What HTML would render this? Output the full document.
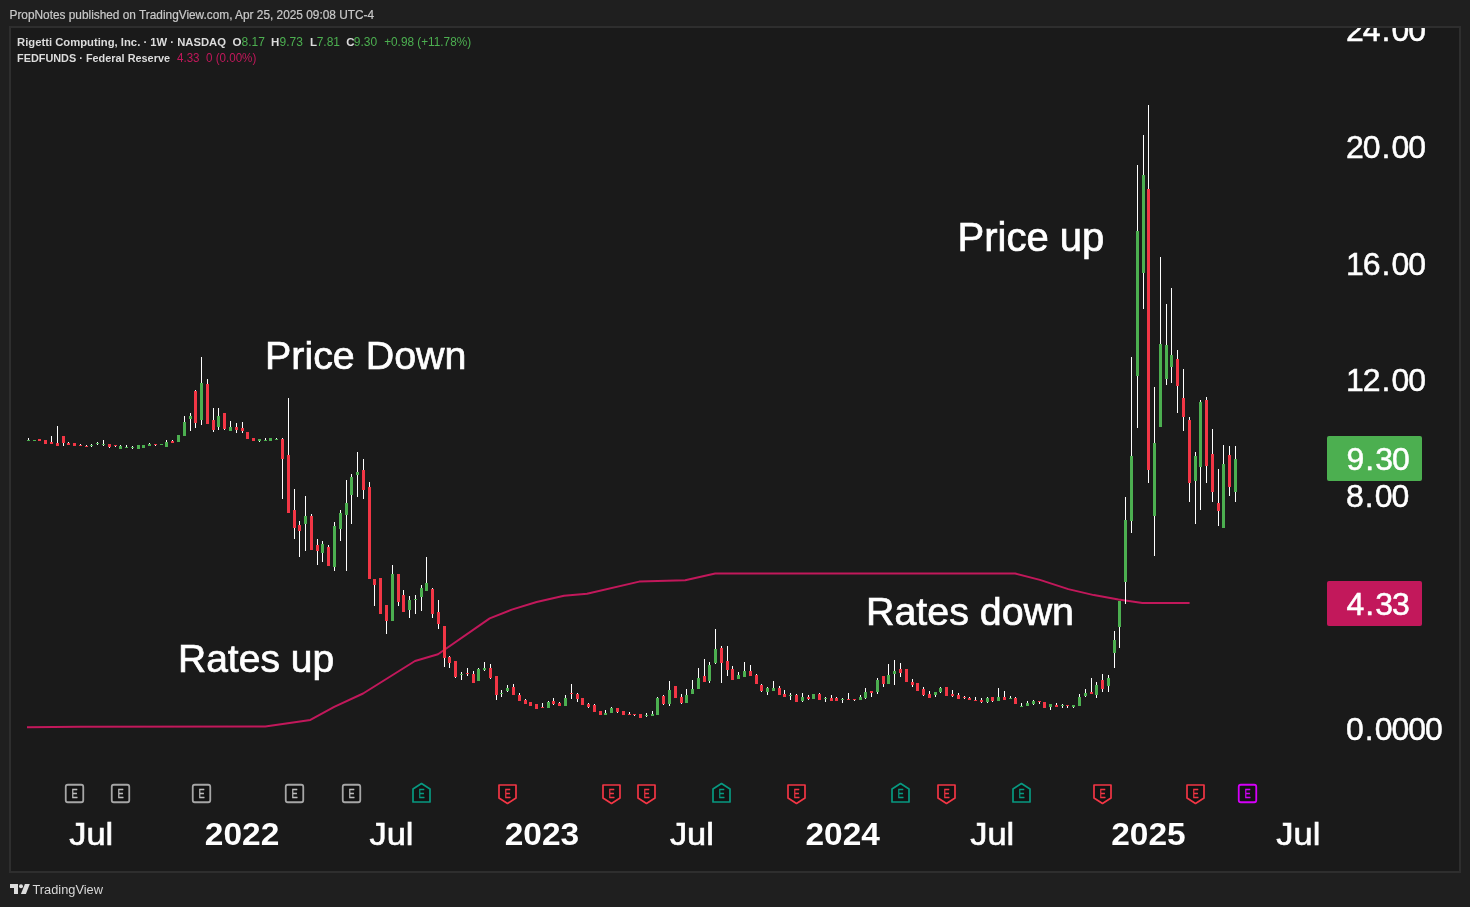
<!DOCTYPE html>
<html><head><meta charset="utf-8">
<style>
html,body{margin:0;padding:0;}
body{width:1470px;height:907px;background:#1f1f1f;position:relative;overflow:hidden;font-family:"Liberation Sans",sans-serif;}
#wrap{position:absolute;left:0;top:0;width:1470px;height:907px;will-change:transform;}
.frame{position:absolute;left:9px;top:26px;width:1448px;height:843px;border:2px solid #2e2e2e;background:#1a1a1a;}
svg{position:absolute;left:0;top:0;}
text{font-family:"Liberation Sans",sans-serif;white-space:pre;}
</style></head><body><div id="wrap">
<div class="frame"></div>
<svg width="1470" height="907" viewBox="0 0 1470 907">
<defs><clipPath id="pane"><rect x="11" y="28" width="1448" height="843"/></clipPath></defs>
<g clip-path="url(#pane)">
<polyline points="27,727.1999999999999 80,726.6999999999999 265.3,726.5 310.4,719.9 334.2,706.8 363.1,693.5 415,661.0 438,654.1999999999999 489.7,618.4 511.8,609.6 536.6,602.0 564,595.8 587,593.6999999999999 639.2,581.6 685.2,580.1999999999999 715.2,573.5 1015.2,573.5 1039.9,579.9 1068.3,589.1 1093.8,595.1 1118.5,599.6 1142.4,603.1 1189.6,603.1" fill="none" stroke="#c2185b" stroke-width="2" stroke-linejoin="round"/>
<g fill="#ffffff" shape-rendering="crispEdges"><rect x="28" y="438" width="1" height="3"/><rect x="34" y="440" width="1" height="1"/><rect x="39" y="439" width="1" height="2"/><rect x="45" y="440" width="1" height="4"/><rect x="51" y="436" width="1" height="8"/><rect x="57" y="426" width="1" height="20"/><rect x="63" y="436" width="1" height="10"/><rect x="68" y="442" width="1" height="3"/><rect x="74" y="443" width="1" height="3"/><rect x="80" y="444" width="1" height="2"/><rect x="86" y="445" width="1" height="2"/><rect x="91" y="444" width="1" height="3"/><rect x="97" y="442" width="1" height="3"/><rect x="103" y="440" width="1" height="6"/><rect x="109" y="444" width="1" height="4"/><rect x="115" y="445" width="1" height="2"/><rect x="120" y="445" width="1" height="4"/><rect x="126" y="445" width="1" height="3"/><rect x="132" y="446" width="1" height="3"/><rect x="138" y="445" width="1" height="4"/><rect x="143" y="445" width="1" height="3"/><rect x="149" y="443" width="1" height="3"/><rect x="155" y="444" width="1" height="2"/><rect x="161" y="444" width="1" height="1"/><rect x="166" y="440" width="1" height="7"/><rect x="172" y="440" width="1" height="3"/><rect x="178" y="435" width="1" height="7"/><rect x="184" y="416" width="1" height="20"/><rect x="190" y="413" width="1" height="18"/><rect x="195" y="390" width="1" height="38"/><rect x="201" y="357" width="1" height="68"/><rect x="207" y="379" width="1" height="45"/><rect x="213" y="408" width="1" height="24"/><rect x="218" y="408" width="1" height="22"/><rect x="224" y="413" width="1" height="17"/><rect x="230" y="421" width="1" height="10"/><rect x="236" y="423" width="1" height="10"/><rect x="242" y="422" width="1" height="11"/><rect x="247" y="432" width="1" height="7"/><rect x="253" y="438" width="1" height="3"/><rect x="259" y="439" width="1" height="3"/><rect x="265" y="438" width="1" height="3"/><rect x="270" y="438" width="1" height="3"/><rect x="276" y="438" width="1" height="2"/><rect x="282" y="438" width="1" height="61"/><rect x="288" y="398" width="1" height="115"/><rect x="294" y="489" width="1" height="50"/><rect x="299" y="521" width="1" height="36"/><rect x="305" y="496" width="1" height="55"/><rect x="311" y="514" width="1" height="36"/><rect x="317" y="539" width="1" height="26"/><rect x="322" y="541" width="1" height="21"/><rect x="328" y="545" width="1" height="21"/><rect x="334" y="522" width="1" height="49"/><rect x="340" y="510" width="1" height="31"/><rect x="346" y="480" width="1" height="91"/><rect x="351" y="474" width="1" height="50"/><rect x="357" y="452" width="1" height="45"/><rect x="363" y="459" width="1" height="40"/><rect x="369" y="482" width="1" height="97"/><rect x="374" y="579" width="1" height="27"/><rect x="380" y="578" width="1" height="36"/><rect x="386" y="605" width="1" height="29"/><rect x="392" y="565" width="1" height="56"/><rect x="398" y="574" width="1" height="32"/><rect x="403" y="590" width="1" height="22"/><rect x="409" y="596" width="1" height="22"/><rect x="415" y="595" width="1" height="19"/><rect x="421" y="585" width="1" height="26"/><rect x="426" y="557" width="1" height="34"/><rect x="432" y="588" width="1" height="30"/><rect x="438" y="600" width="1" height="29"/><rect x="444" y="626" width="1" height="41"/><rect x="449" y="656" width="1" height="12"/><rect x="455" y="661" width="1" height="17"/><rect x="461" y="672" width="1" height="8"/><rect x="467" y="668" width="1" height="8"/><rect x="473" y="671" width="1" height="12"/><rect x="478" y="668" width="1" height="13"/><rect x="484" y="662" width="1" height="9"/><rect x="490" y="664" width="1" height="15"/><rect x="496" y="676" width="1" height="24"/><rect x="501" y="690" width="1" height="7"/><rect x="507" y="685" width="1" height="7"/><rect x="513" y="684" width="1" height="11"/><rect x="519" y="693" width="1" height="8"/><rect x="525" y="699" width="1" height="5"/><rect x="530" y="702" width="1" height="4"/><rect x="536" y="704" width="1" height="5"/><rect x="542" y="703" width="1" height="5"/><rect x="548" y="701" width="1" height="7"/><rect x="553" y="698" width="1" height="7"/><rect x="559" y="702" width="1" height="4"/><rect x="565" y="695" width="1" height="11"/><rect x="571" y="684" width="1" height="15"/><rect x="577" y="693" width="1" height="9"/><rect x="582" y="698" width="1" height="7"/><rect x="588" y="703" width="1" height="5"/><rect x="594" y="704" width="1" height="8"/><rect x="600" y="711" width="1" height="4"/><rect x="605" y="710" width="1" height="5"/><rect x="611" y="707" width="1" height="6"/><rect x="617" y="708" width="1" height="5"/><rect x="623" y="711" width="1" height="4"/><rect x="629" y="712" width="1" height="3"/><rect x="634" y="714" width="1" height="2"/><rect x="640" y="714" width="1" height="4"/><rect x="646" y="713" width="1" height="4"/><rect x="652" y="711" width="1" height="5"/><rect x="657" y="697" width="1" height="18"/><rect x="663" y="695" width="1" height="10"/><rect x="669" y="681" width="1" height="25"/><rect x="675" y="686" width="1" height="12"/><rect x="681" y="694" width="1" height="10"/><rect x="686" y="689" width="1" height="14"/><rect x="692" y="680" width="1" height="14"/><rect x="698" y="668" width="1" height="21"/><rect x="704" y="659" width="1" height="23"/><rect x="709" y="662" width="1" height="21"/><rect x="715" y="629" width="1" height="35"/><rect x="721" y="646" width="1" height="37"/><rect x="727" y="646" width="1" height="30"/><rect x="732" y="666" width="1" height="14"/><rect x="738" y="672" width="1" height="7"/><rect x="744" y="662" width="1" height="15"/><rect x="750" y="665" width="1" height="11"/><rect x="756" y="674" width="1" height="10"/><rect x="761" y="684" width="1" height="8"/><rect x="767" y="687" width="1" height="8"/><rect x="773" y="681" width="1" height="10"/><rect x="779" y="686" width="1" height="9"/><rect x="784" y="690" width="1" height="7"/><rect x="790" y="693" width="1" height="7"/><rect x="796" y="694" width="1" height="8"/><rect x="802" y="693" width="1" height="9"/><rect x="808" y="695" width="1" height="5"/><rect x="813" y="694" width="1" height="5"/><rect x="819" y="693" width="1" height="7"/><rect x="825" y="697" width="1" height="5"/><rect x="831" y="695" width="1" height="6"/><rect x="836" y="697" width="1" height="4"/><rect x="842" y="698" width="1" height="5"/><rect x="848" y="693" width="1" height="7"/><rect x="854" y="699" width="1" height="2"/><rect x="860" y="695" width="1" height="5"/><rect x="865" y="688" width="1" height="11"/><rect x="871" y="691" width="1" height="6"/><rect x="877" y="678" width="1" height="16"/><rect x="883" y="676" width="1" height="11"/><rect x="888" y="664" width="1" height="20"/><rect x="894" y="660" width="1" height="25"/><rect x="900" y="663" width="1" height="14"/><rect x="906" y="669" width="1" height="13"/><rect x="912" y="679" width="1" height="8"/><rect x="917" y="683" width="1" height="8"/><rect x="923" y="687" width="1" height="9"/><rect x="929" y="691" width="1" height="7"/><rect x="935" y="692" width="1" height="5"/><rect x="940" y="687" width="1" height="6"/><rect x="946" y="687" width="1" height="9"/><rect x="952" y="690" width="1" height="7"/><rect x="958" y="693" width="1" height="6"/><rect x="964" y="696" width="1" height="3"/><rect x="969" y="697" width="1" height="3"/><rect x="975" y="697" width="1" height="4"/><rect x="981" y="698" width="1" height="5"/><rect x="987" y="697" width="1" height="6"/><rect x="992" y="697" width="1" height="5"/><rect x="998" y="688" width="1" height="13"/><rect x="1004" y="691" width="1" height="9"/><rect x="1010" y="696" width="1" height="3"/><rect x="1015" y="697" width="1" height="7"/><rect x="1021" y="703" width="1" height="4"/><rect x="1027" y="701" width="1" height="5"/><rect x="1033" y="700" width="1" height="5"/><rect x="1039" y="701" width="1" height="3"/><rect x="1044" y="702" width="1" height="6"/><rect x="1050" y="704" width="1" height="6"/><rect x="1056" y="703" width="1" height="4"/><rect x="1062" y="704" width="1" height="4"/><rect x="1067" y="705" width="1" height="3"/><rect x="1073" y="705" width="1" height="3"/><rect x="1079" y="694" width="1" height="12"/><rect x="1085" y="689" width="1" height="8"/><rect x="1091" y="678" width="1" height="16"/><rect x="1096" y="682" width="1" height="16"/><rect x="1102" y="674" width="1" height="18"/><rect x="1108" y="675" width="1" height="17"/><rect x="1114" y="631" width="1" height="37"/><rect x="1119" y="601" width="1" height="47"/><rect x="1125" y="497" width="1" height="107"/><rect x="1131" y="357" width="1" height="176"/><rect x="1137" y="165" width="1" height="263"/><rect x="1143" y="135" width="1" height="174"/><rect x="1148" y="105" width="1" height="378"/><rect x="1154" y="387" width="1" height="169"/><rect x="1160" y="257" width="1" height="170"/><rect x="1166" y="304" width="1" height="81"/><rect x="1171" y="288" width="1" height="95"/><rect x="1177" y="350" width="1" height="63"/><rect x="1183" y="369" width="1" height="62"/><rect x="1189" y="417" width="1" height="85"/><rect x="1195" y="452" width="1" height="72"/><rect x="1200" y="400" width="1" height="110"/><rect x="1206" y="397" width="1" height="86"/><rect x="1212" y="429" width="1" height="73"/><rect x="1218" y="469" width="1" height="57"/><rect x="1223" y="445" width="1" height="83"/><rect x="1229" y="446" width="1" height="50"/><rect x="1235" y="446" width="1" height="56"/></g>
<g shape-rendering="crispEdges"><rect x="27" y="440" width="3" height="1" fill="#4caf50"/><rect x="33" y="440" width="3" height="1" fill="#4caf50"/><rect x="38" y="439" width="3" height="2" fill="#f23645"/><rect x="44" y="440" width="3" height="4" fill="#f23645"/><rect x="50" y="442" width="3" height="2" fill="#f23645"/><rect x="56" y="443" width="3" height="3" fill="#f23645"/><rect x="62" y="436" width="3" height="7" fill="#f23645"/><rect x="67" y="443" width="3" height="2" fill="#f23645"/><rect x="73" y="443" width="3" height="3" fill="#f23645"/><rect x="79" y="445" width="3" height="1" fill="#f23645"/><rect x="85" y="446" width="3" height="1" fill="#f23645"/><rect x="90" y="445" width="3" height="1" fill="#4caf50"/><rect x="96" y="443" width="3" height="1" fill="#4caf50"/><rect x="102" y="444" width="3" height="1" fill="#4caf50"/><rect x="108" y="444" width="3" height="3" fill="#f23645"/><rect x="114" y="445" width="3" height="1" fill="#f23645"/><rect x="119" y="446" width="3" height="3" fill="#4caf50"/><rect x="125" y="447" width="3" height="1" fill="#4caf50"/><rect x="131" y="447" width="3" height="1" fill="#4caf50"/><rect x="137" y="445" width="3" height="4" fill="#4caf50"/><rect x="142" y="445" width="3" height="3" fill="#4caf50"/><rect x="148" y="444" width="3" height="2" fill="#4caf50"/><rect x="154" y="444" width="3" height="1" fill="#f23645"/><rect x="160" y="444" width="3" height="1" fill="#4caf50"/><rect x="165" y="442" width="3" height="5" fill="#4caf50"/><rect x="171" y="441" width="3" height="2" fill="#f23645"/><rect x="177" y="435" width="3" height="7" fill="#4caf50"/><rect x="183" y="422" width="3" height="14" fill="#4caf50"/><rect x="189" y="416" width="3" height="3" fill="#4caf50"/><rect x="194" y="391" width="3" height="32" fill="#f23645"/><rect x="200" y="383" width="3" height="37" fill="#4caf50"/><rect x="206" y="384" width="3" height="40" fill="#f23645"/><rect x="212" y="420" width="3" height="10" fill="#f23645"/><rect x="217" y="416" width="3" height="11" fill="#4caf50"/><rect x="223" y="413" width="3" height="16" fill="#f23645"/><rect x="229" y="427" width="3" height="4" fill="#4caf50"/><rect x="235" y="427" width="3" height="3" fill="#f23645"/><rect x="241" y="428" width="3" height="3" fill="#f23645"/><rect x="246" y="432" width="3" height="7" fill="#f23645"/><rect x="252" y="438" width="3" height="3" fill="#f23645"/><rect x="258" y="439" width="3" height="2" fill="#4caf50"/><rect x="264" y="440" width="3" height="1" fill="#4caf50"/><rect x="269" y="438" width="3" height="3" fill="#4caf50"/><rect x="275" y="439" width="3" height="1" fill="#4caf50"/><rect x="281" y="439" width="3" height="20" fill="#f23645"/><rect x="287" y="455" width="3" height="58" fill="#f23645"/><rect x="293" y="510" width="3" height="18" fill="#f23645"/><rect x="298" y="525" width="3" height="6" fill="#f23645"/><rect x="304" y="516" width="3" height="8" fill="#4caf50"/><rect x="310" y="516" width="3" height="34" fill="#f23645"/><rect x="316" y="545" width="3" height="6" fill="#f23645"/><rect x="321" y="544" width="3" height="9" fill="#4caf50"/><rect x="327" y="547" width="3" height="19" fill="#f23645"/><rect x="333" y="526" width="3" height="41" fill="#4caf50"/><rect x="339" y="513" width="3" height="16" fill="#4caf50"/><rect x="345" y="503" width="3" height="12" fill="#4caf50"/><rect x="350" y="477" width="3" height="18" fill="#4caf50"/><rect x="356" y="472" width="3" height="3" fill="#4caf50"/><rect x="362" y="470" width="3" height="20" fill="#f23645"/><rect x="368" y="487" width="3" height="92" fill="#f23645"/><rect x="373" y="579" width="3" height="6" fill="#f23645"/><rect x="379" y="578" width="3" height="36" fill="#f23645"/><rect x="385" y="605" width="3" height="16" fill="#f23645"/><rect x="391" y="574" width="3" height="47" fill="#4caf50"/><rect x="397" y="574" width="3" height="28" fill="#f23645"/><rect x="402" y="595" width="3" height="17" fill="#f23645"/><rect x="408" y="600" width="3" height="10" fill="#4caf50"/><rect x="414" y="599" width="3" height="1" fill="#4caf50"/><rect x="420" y="588" width="3" height="9" fill="#4caf50"/><rect x="425" y="583" width="3" height="8" fill="#4caf50"/><rect x="431" y="589" width="3" height="25" fill="#f23645"/><rect x="437" y="612" width="3" height="12" fill="#f23645"/><rect x="443" y="626" width="3" height="32" fill="#f23645"/><rect x="448" y="657" width="3" height="6" fill="#f23645"/><rect x="454" y="661" width="3" height="16" fill="#f23645"/><rect x="460" y="674" width="3" height="1" fill="#4caf50"/><rect x="466" y="673" width="3" height="1" fill="#f23645"/><rect x="472" y="674" width="3" height="9" fill="#f23645"/><rect x="477" y="669" width="3" height="12" fill="#4caf50"/><rect x="483" y="668" width="3" height="2" fill="#4caf50"/><rect x="489" y="668" width="3" height="10" fill="#f23645"/><rect x="495" y="676" width="3" height="19" fill="#f23645"/><rect x="500" y="693" width="3" height="1" fill="#4caf50"/><rect x="506" y="688" width="3" height="3" fill="#4caf50"/><rect x="512" y="687" width="3" height="8" fill="#f23645"/><rect x="518" y="695" width="3" height="6" fill="#f23645"/><rect x="524" y="700" width="3" height="4" fill="#f23645"/><rect x="529" y="702" width="3" height="4" fill="#f23645"/><rect x="535" y="704" width="3" height="5" fill="#f23645"/><rect x="541" y="707" width="3" height="1" fill="#f23645"/><rect x="547" y="702" width="3" height="6" fill="#4caf50"/><rect x="552" y="701" width="3" height="3" fill="#f23645"/><rect x="558" y="703" width="3" height="3" fill="#f23645"/><rect x="564" y="698" width="3" height="8" fill="#4caf50"/><rect x="570" y="693" width="3" height="1" fill="#f23645"/><rect x="576" y="694" width="3" height="5" fill="#f23645"/><rect x="581" y="698" width="3" height="7" fill="#f23645"/><rect x="587" y="704" width="3" height="3" fill="#f23645"/><rect x="593" y="705" width="3" height="7" fill="#f23645"/><rect x="599" y="711" width="3" height="4" fill="#f23645"/><rect x="604" y="713" width="3" height="2" fill="#4caf50"/><rect x="610" y="708" width="3" height="5" fill="#4caf50"/><rect x="616" y="708" width="3" height="4" fill="#f23645"/><rect x="622" y="711" width="3" height="4" fill="#f23645"/><rect x="628" y="714" width="3" height="1" fill="#f23645"/><rect x="633" y="714" width="3" height="1" fill="#f23645"/><rect x="639" y="714" width="3" height="4" fill="#f23645"/><rect x="645" y="715" width="3" height="1" fill="#4caf50"/><rect x="651" y="714" width="3" height="2" fill="#4caf50"/><rect x="656" y="698" width="3" height="17" fill="#4caf50"/><rect x="662" y="696" width="3" height="8" fill="#f23645"/><rect x="668" y="690" width="3" height="14" fill="#4caf50"/><rect x="674" y="686" width="3" height="12" fill="#f23645"/><rect x="680" y="697" width="3" height="6" fill="#f23645"/><rect x="685" y="695" width="3" height="8" fill="#4caf50"/><rect x="691" y="689" width="3" height="5" fill="#4caf50"/><rect x="697" y="678" width="3" height="11" fill="#4caf50"/><rect x="703" y="676" width="3" height="6" fill="#f23645"/><rect x="708" y="665" width="3" height="16" fill="#4caf50"/><rect x="714" y="649" width="3" height="14" fill="#4caf50"/><rect x="720" y="648" width="3" height="15" fill="#f23645"/><rect x="726" y="661" width="3" height="9" fill="#f23645"/><rect x="731" y="669" width="3" height="11" fill="#f23645"/><rect x="737" y="675" width="3" height="4" fill="#4caf50"/><rect x="743" y="671" width="3" height="6" fill="#4caf50"/><rect x="749" y="671" width="3" height="5" fill="#f23645"/><rect x="755" y="675" width="3" height="9" fill="#f23645"/><rect x="760" y="685" width="3" height="6" fill="#f23645"/><rect x="766" y="688" width="3" height="4" fill="#4caf50"/><rect x="772" y="688" width="3" height="3" fill="#4caf50"/><rect x="778" y="688" width="3" height="7" fill="#f23645"/><rect x="783" y="694" width="3" height="3" fill="#f23645"/><rect x="789" y="695" width="3" height="1" fill="#4caf50"/><rect x="795" y="695" width="3" height="7" fill="#f23645"/><rect x="801" y="697" width="3" height="4" fill="#4caf50"/><rect x="807" y="697" width="3" height="2" fill="#f23645"/><rect x="812" y="694" width="3" height="5" fill="#4caf50"/><rect x="818" y="694" width="3" height="6" fill="#f23645"/><rect x="824" y="698" width="3" height="1" fill="#4caf50"/><rect x="830" y="698" width="3" height="3" fill="#f23645"/><rect x="835" y="698" width="3" height="3" fill="#f23645"/><rect x="841" y="699" width="3" height="1" fill="#4caf50"/><rect x="847" y="699" width="3" height="1" fill="#f23645"/><rect x="853" y="699" width="3" height="1" fill="#f23645"/><rect x="859" y="697" width="3" height="3" fill="#4caf50"/><rect x="864" y="692" width="3" height="6" fill="#4caf50"/><rect x="870" y="691" width="3" height="2" fill="#f23645"/><rect x="876" y="680" width="3" height="12" fill="#4caf50"/><rect x="882" y="676" width="3" height="8" fill="#f23645"/><rect x="887" y="675" width="3" height="9" fill="#4caf50"/><rect x="893" y="671" width="3" height="3" fill="#4caf50"/><rect x="899" y="669" width="3" height="4" fill="#f23645"/><rect x="905" y="669" width="3" height="13" fill="#f23645"/><rect x="911" y="682" width="3" height="3" fill="#f23645"/><rect x="916" y="683" width="3" height="8" fill="#f23645"/><rect x="922" y="689" width="3" height="6" fill="#f23645"/><rect x="928" y="694" width="3" height="4" fill="#f23645"/><rect x="934" y="692" width="3" height="3" fill="#4caf50"/><rect x="939" y="688" width="3" height="4" fill="#4caf50"/><rect x="945" y="687" width="3" height="9" fill="#f23645"/><rect x="951" y="694" width="3" height="2" fill="#f23645"/><rect x="957" y="695" width="3" height="4" fill="#f23645"/><rect x="963" y="697" width="3" height="1" fill="#f23645"/><rect x="968" y="698" width="3" height="2" fill="#f23645"/><rect x="974" y="700" width="3" height="1" fill="#f23645"/><rect x="980" y="700" width="3" height="2" fill="#f23645"/><rect x="986" y="698" width="3" height="4" fill="#4caf50"/><rect x="991" y="697" width="3" height="4" fill="#f23645"/><rect x="997" y="697" width="3" height="4" fill="#4caf50"/><rect x="1003" y="697" width="3" height="3" fill="#f23645"/><rect x="1009" y="698" width="3" height="1" fill="#4caf50"/><rect x="1014" y="698" width="3" height="6" fill="#f23645"/><rect x="1020" y="706" width="3" height="1" fill="#4caf50"/><rect x="1026" y="703" width="3" height="3" fill="#4caf50"/><rect x="1032" y="701" width="3" height="3" fill="#4caf50"/><rect x="1038" y="701" width="3" height="1" fill="#f23645"/><rect x="1043" y="702" width="3" height="6" fill="#f23645"/><rect x="1049" y="704" width="3" height="3" fill="#4caf50"/><rect x="1055" y="705" width="3" height="2" fill="#f23645"/><rect x="1061" y="705" width="3" height="1" fill="#4caf50"/><rect x="1066" y="705" width="3" height="1" fill="#f23645"/><rect x="1072" y="705" width="3" height="2" fill="#4caf50"/><rect x="1078" y="697" width="3" height="9" fill="#4caf50"/><rect x="1084" y="693" width="3" height="3" fill="#4caf50"/><rect x="1090" y="692" width="3" height="2" fill="#f23645"/><rect x="1095" y="685" width="3" height="10" fill="#4caf50"/><rect x="1101" y="680" width="3" height="9" fill="#f23645"/><rect x="1107" y="678" width="3" height="8" fill="#4caf50"/><rect x="1113" y="640" width="3" height="13" fill="#4caf50"/><rect x="1118" y="601" width="3" height="26" fill="#4caf50"/><rect x="1124" y="520" width="3" height="62" fill="#4caf50"/><rect x="1130" y="456" width="3" height="65" fill="#4caf50"/><rect x="1136" y="231" width="3" height="145" fill="#4caf50"/><rect x="1142" y="175" width="3" height="98" fill="#4caf50"/><rect x="1147" y="189" width="3" height="281" fill="#f23645"/><rect x="1153" y="443" width="3" height="73" fill="#4caf50"/><rect x="1159" y="344" width="3" height="83" fill="#4caf50"/><rect x="1165" y="345" width="3" height="34" fill="#4caf50"/><rect x="1170" y="355" width="3" height="12" fill="#4caf50"/><rect x="1176" y="359" width="3" height="27" fill="#f23645"/><rect x="1182" y="398" width="3" height="19" fill="#f23645"/><rect x="1188" y="420" width="3" height="63" fill="#f23645"/><rect x="1194" y="456" width="3" height="25" fill="#4caf50"/><rect x="1199" y="402" width="3" height="65" fill="#4caf50"/><rect x="1205" y="400" width="3" height="66" fill="#f23645"/><rect x="1211" y="454" width="3" height="38" fill="#f23645"/><rect x="1217" y="503" width="3" height="8" fill="#f23645"/><rect x="1222" y="464" width="3" height="64" fill="#4caf50"/><rect x="1228" y="455" width="3" height="32" fill="#f23645"/><rect x="1234" y="459" width="3" height="33" fill="#4caf50"/></g>
<rect x="1327" y="436" width="95" height="45" rx="2" fill="#4caf50"/>
<rect x="1327" y="581" width="95" height="45" rx="2" fill="#c2185b"/>
<g><rect x="65.75" y="784.75" width="17.5" height="17.5" rx="2" fill="#131313" stroke="#a6a6a6" stroke-width="1.8"/><text x="74.5" y="798" fill="#bdbdbd" font-size="12.5" text-anchor="middle" textLength="6.2" lengthAdjust="spacingAndGlyphs" stroke="#bdbdbd" stroke-width="0.3">E</text><rect x="111.75" y="784.75" width="17.5" height="17.5" rx="2" fill="#131313" stroke="#a6a6a6" stroke-width="1.8"/><text x="120.5" y="798" fill="#bdbdbd" font-size="12.5" text-anchor="middle" textLength="6.2" lengthAdjust="spacingAndGlyphs" stroke="#bdbdbd" stroke-width="0.3">E</text><rect x="192.75" y="784.75" width="17.5" height="17.5" rx="2" fill="#131313" stroke="#a6a6a6" stroke-width="1.8"/><text x="201.5" y="798" fill="#bdbdbd" font-size="12.5" text-anchor="middle" textLength="6.2" lengthAdjust="spacingAndGlyphs" stroke="#bdbdbd" stroke-width="0.3">E</text><rect x="285.75" y="784.75" width="17.5" height="17.5" rx="2" fill="#131313" stroke="#a6a6a6" stroke-width="1.8"/><text x="294.5" y="798" fill="#bdbdbd" font-size="12.5" text-anchor="middle" textLength="6.2" lengthAdjust="spacingAndGlyphs" stroke="#bdbdbd" stroke-width="0.3">E</text><rect x="342.75" y="784.75" width="17.5" height="17.5" rx="2" fill="#131313" stroke="#a6a6a6" stroke-width="1.8"/><text x="351.5" y="798" fill="#bdbdbd" font-size="12.5" text-anchor="middle" textLength="6.2" lengthAdjust="spacingAndGlyphs" stroke="#bdbdbd" stroke-width="0.3">E</text><path d="M413.0,802 L413.0,789 L421.5,783.5 L430.0,789 L430.0,802 Z" fill="#131313" stroke="#089981" stroke-width="1.7" stroke-linejoin="round"/><text x="421.5" y="798" fill="#089981" font-size="12.5" text-anchor="middle" textLength="6.2" lengthAdjust="spacingAndGlyphs" stroke="#089981" stroke-width="0.3">E</text><path d="M499.0,785 L516.0,785 L516.0,798 L507.5,803.5 L499.0,798 Z" fill="#131313" stroke="#f23645" stroke-width="1.7" stroke-linejoin="round"/><text x="507.5" y="797.5" fill="#f23645" font-size="12.5" text-anchor="middle" textLength="6.2" lengthAdjust="spacingAndGlyphs" stroke="#f23645" stroke-width="0.3">E</text><path d="M603.0,785 L620.0,785 L620.0,798 L611.5,803.5 L603.0,798 Z" fill="#131313" stroke="#f23645" stroke-width="1.7" stroke-linejoin="round"/><text x="611.5" y="797.5" fill="#f23645" font-size="12.5" text-anchor="middle" textLength="6.2" lengthAdjust="spacingAndGlyphs" stroke="#f23645" stroke-width="0.3">E</text><path d="M638.0,785 L655.0,785 L655.0,798 L646.5,803.5 L638.0,798 Z" fill="#131313" stroke="#f23645" stroke-width="1.7" stroke-linejoin="round"/><text x="646.5" y="797.5" fill="#f23645" font-size="12.5" text-anchor="middle" textLength="6.2" lengthAdjust="spacingAndGlyphs" stroke="#f23645" stroke-width="0.3">E</text><path d="M713.0,802 L713.0,789 L721.5,783.5 L730.0,789 L730.0,802 Z" fill="#131313" stroke="#089981" stroke-width="1.7" stroke-linejoin="round"/><text x="721.5" y="798" fill="#089981" font-size="12.5" text-anchor="middle" textLength="6.2" lengthAdjust="spacingAndGlyphs" stroke="#089981" stroke-width="0.3">E</text><path d="M788.0,785 L805.0,785 L805.0,798 L796.5,803.5 L788.0,798 Z" fill="#131313" stroke="#f23645" stroke-width="1.7" stroke-linejoin="round"/><text x="796.5" y="797.5" fill="#f23645" font-size="12.5" text-anchor="middle" textLength="6.2" lengthAdjust="spacingAndGlyphs" stroke="#f23645" stroke-width="0.3">E</text><path d="M892.0,802 L892.0,789 L900.5,783.5 L909.0,789 L909.0,802 Z" fill="#131313" stroke="#089981" stroke-width="1.7" stroke-linejoin="round"/><text x="900.5" y="798" fill="#089981" font-size="12.5" text-anchor="middle" textLength="6.2" lengthAdjust="spacingAndGlyphs" stroke="#089981" stroke-width="0.3">E</text><path d="M938.0,785 L955.0,785 L955.0,798 L946.5,803.5 L938.0,798 Z" fill="#131313" stroke="#f23645" stroke-width="1.7" stroke-linejoin="round"/><text x="946.5" y="797.5" fill="#f23645" font-size="12.5" text-anchor="middle" textLength="6.2" lengthAdjust="spacingAndGlyphs" stroke="#f23645" stroke-width="0.3">E</text><path d="M1013.0,802 L1013.0,789 L1021.5,783.5 L1030.0,789 L1030.0,802 Z" fill="#131313" stroke="#089981" stroke-width="1.7" stroke-linejoin="round"/><text x="1021.5" y="798" fill="#089981" font-size="12.5" text-anchor="middle" textLength="6.2" lengthAdjust="spacingAndGlyphs" stroke="#089981" stroke-width="0.3">E</text><path d="M1094.0,785 L1111.0,785 L1111.0,798 L1102.5,803.5 L1094.0,798 Z" fill="#131313" stroke="#f23645" stroke-width="1.7" stroke-linejoin="round"/><text x="1102.5" y="797.5" fill="#f23645" font-size="12.5" text-anchor="middle" textLength="6.2" lengthAdjust="spacingAndGlyphs" stroke="#f23645" stroke-width="0.3">E</text><path d="M1187.0,785 L1204.0,785 L1204.0,798 L1195.5,803.5 L1187.0,798 Z" fill="#131313" stroke="#f23645" stroke-width="1.7" stroke-linejoin="round"/><text x="1195.5" y="797.5" fill="#f23645" font-size="12.5" text-anchor="middle" textLength="6.2" lengthAdjust="spacingAndGlyphs" stroke="#f23645" stroke-width="0.3">E</text><rect x="1238.75" y="784.75" width="17.5" height="17.5" rx="2" fill="#131313" stroke="#d500f9" stroke-width="1.8"/><text x="1247.5" y="798" fill="#d500f9" font-size="12.5" text-anchor="middle" textLength="6.2" lengthAdjust="spacingAndGlyphs" stroke="#d500f9" stroke-width="0.3">E</text></g>
<text x="1346 1362.75 1381.5 1391.6 1408.35" y="41" font-size="32" fill="#ffffff" stroke="#ffffff" stroke-width="0.5">24.00</text><text x="1346 1362.75 1381.5 1391.6 1408.35" y="158" font-size="32" fill="#ffffff" stroke="#ffffff" stroke-width="0.5">20.00</text><text x="1346 1362.75 1381.5 1391.6 1408.35" y="274.5" font-size="32" fill="#ffffff" stroke="#ffffff" stroke-width="0.5">16.00</text><text x="1346 1362.75 1381.5 1391.6 1408.35" y="391" font-size="32" fill="#ffffff" stroke="#ffffff" stroke-width="0.5">12.00</text><text x="1346 1364.75 1374.85 1391.6" y="507" font-size="32" fill="#ffffff" stroke="#ffffff" stroke-width="0.5">8.00</text><text x="1346 1364.75 1374.85 1391.6 1408.35 1425.1" y="740" font-size="32" fill="#ffffff" stroke="#ffffff" stroke-width="0.5">0.0000</text><text x="1346.5 1365.25 1375.35 1392.1" y="470" font-size="32" fill="#ffffff" stroke="#ffffff" stroke-width="0.5">9.30</text><text x="1346.5 1365.25 1375.35 1392.1" y="615" font-size="32" fill="#ffffff" stroke="#ffffff" stroke-width="0.5">4.33</text><text x="265" y="369" font-size="39.4" fill="#ffffff" stroke="#ffffff" stroke-width="0.7">Price Down</text><text x="957.6" y="251" font-size="40" fill="#ffffff" stroke="#ffffff" stroke-width="0.7">Price up</text><text x="178" y="672" font-size="39.0" fill="#ffffff" stroke="#ffffff" stroke-width="0.7">Rates up</text><text x="866" y="624.6" font-size="39.4" fill="#ffffff" stroke="#ffffff" stroke-width="0.7">Rates down</text><text x="91.25" y="845" font-size="31" fill="#ffffff" textLength="44" lengthAdjust="spacingAndGlyphs" text-anchor="middle" stroke="#ffffff" stroke-width="0.6">Jul</text><text x="242.1" y="845" font-size="31" fill="#ffffff" font-weight="bold" textLength="74.5" lengthAdjust="spacingAndGlyphs" text-anchor="middle">2022</text><text x="391.5" y="845" font-size="31" fill="#ffffff" textLength="44" lengthAdjust="spacingAndGlyphs" text-anchor="middle" stroke="#ffffff" stroke-width="0.6">Jul</text><text x="542" y="845" font-size="31" fill="#ffffff" font-weight="bold" textLength="74.5" lengthAdjust="spacingAndGlyphs" text-anchor="middle">2023</text><text x="691.9" y="845" font-size="31" fill="#ffffff" textLength="44" lengthAdjust="spacingAndGlyphs" text-anchor="middle" stroke="#ffffff" stroke-width="0.6">Jul</text><text x="842.7" y="845" font-size="31" fill="#ffffff" font-weight="bold" textLength="74.5" lengthAdjust="spacingAndGlyphs" text-anchor="middle">2024</text><text x="992.2" y="845" font-size="31" fill="#ffffff" textLength="44" lengthAdjust="spacingAndGlyphs" text-anchor="middle" stroke="#ffffff" stroke-width="0.6">Jul</text><text x="1148.4" y="845" font-size="31" fill="#ffffff" font-weight="bold" textLength="74.5" lengthAdjust="spacingAndGlyphs" text-anchor="middle">2025</text><text x="1298.3" y="845" font-size="31" fill="#ffffff" textLength="44" lengthAdjust="spacingAndGlyphs" text-anchor="middle" stroke="#ffffff" stroke-width="0.6">Jul</text><text x="17" y="45.8" font-size="11.5" fill="#dcdcdc" font-weight="bold" textLength="209" lengthAdjust="spacingAndGlyphs">Rigetti Computing, Inc. · 1W · NASDAQ</text><text x="232.5" y="45.8" font-size="11.5" fill="#dcdcdc" font-weight="bold">O</text><text x="241.5" y="45.8" font-size="12" fill="#4caf50">8.17</text><text x="271" y="45.8" font-size="11.5" fill="#dcdcdc" font-weight="bold">H</text><text x="279.5" y="45.8" font-size="12" fill="#4caf50">9.73</text><text x="310" y="45.8" font-size="11.5" fill="#dcdcdc" font-weight="bold">L</text><text x="316.7" y="45.8" font-size="12" fill="#4caf50">7.81</text><text x="346.3" y="45.8" font-size="11.5" fill="#dcdcdc" font-weight="bold">C</text><text x="353.8" y="45.8" font-size="12" fill="#4caf50">9.30</text><text x="384.2" y="45.8" font-size="12" fill="#4caf50" textLength="86.9" lengthAdjust="spacingAndGlyphs">+0.98 (+11.78%)</text><text x="17" y="62.2" font-size="11.5" fill="#dcdcdc" font-weight="bold" textLength="153" lengthAdjust="spacingAndGlyphs">FEDFUNDS · Federal Reserve</text><text x="177" y="62.2" font-size="12" fill="#c2185b" textLength="79.3" lengthAdjust="spacingAndGlyphs">4.33  0 (0.00%)</text>
</g>
<g fill="#dcdcdc"><path d="M10,884 H18 V894 H14 V888 H10 Z"/><circle cx="21" cy="886.2" r="2"/><path d="M24.9,884 H29.8 L25.9,894 H20.9 Z"/></g>
<text x="9.5" y="18.6" font-size="11.85" fill="#c9c9c9" stroke="#c9c9c9" stroke-width="0.2">PropNotes published on TradingView.com, Apr 25, 2025 09:08 UTC-4</text><text x="32.5" y="894" font-size="12.8" fill="#d8d8d8">TradingView</text>
</svg>
</div></body></html>
